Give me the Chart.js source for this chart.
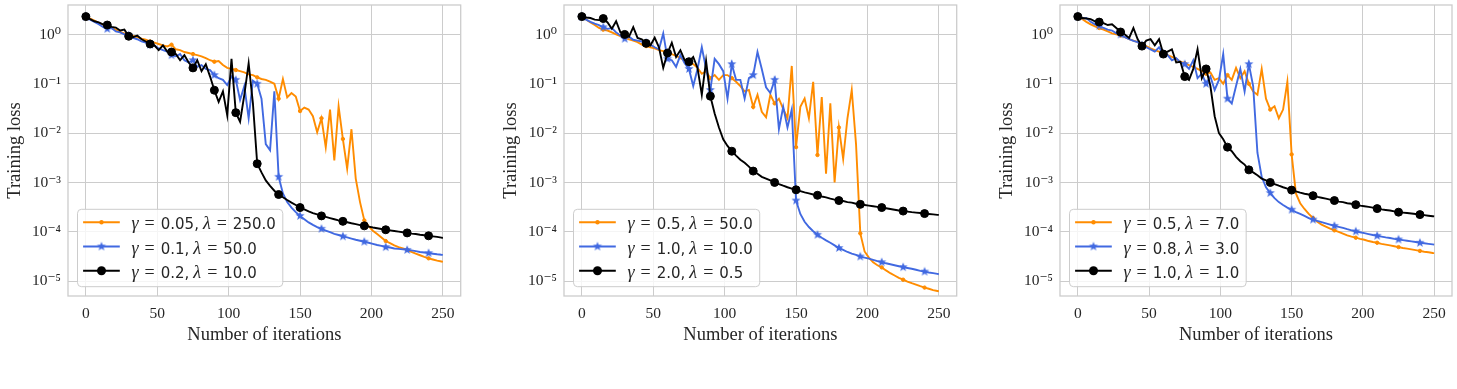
<!DOCTYPE html>
<html>
<head>
<meta charset="utf-8">
<script src="https://cdn.jsdelivr.net/npm/chart.js@4.4.1/dist/chart.umd.min.js"></script>
<style>
html,body{margin:0;padding:0;background:#ffffff;width:1457px;height:389px;overflow:hidden}
canvas{position:absolute;top:0}
</style>
</head>
<body>
<canvas id="c1" width="480" height="389" style="left:0px"></canvas>
<canvas id="c2" width="480" height="389" style="left:496px"></canvas>
<canvas id="c3" width="465" height="389" style="left:992px"></canvas>
<script>
// ---------------- data ----------------
const iterations = [0,3,6,9,12,15,18,21,24,27,30,33,36,39,42,45,48,51,54,57,60,63,66,69,72,75,78,81,84,87,90,93,96,99,102,105,108,111,114,117,120,123,126,129,132,135,138,141,144,147,150,153,156,159,162,165,168,171,174,177,180,183,186,189,192,195,198,201,204,207,210,213,216,219,222,225,228,231,234,237,240,243,246,249,250];
const xTickValues = [0,50,100,150,200,250];
const yTickValues = [1e-5,1e-4,1e-3,1e-2,1e-1,1];
const yTickLabels = ['10⁻⁵','10⁻⁴','10⁻³','10⁻²','10⁻¹','10⁰'];
const xAxisTitle = 'Number of iterations';
const yAxisTitle = 'Training loss';

// panel 1
const p1Gamma = ['0.05','0.1','0.2'];
const p1Lambda = ['250.0','50.0','10.0'];
const p1Orange = [2.3,2.1,1.9,1.72,1.58,1.45,1.35,1.25,1.12,1.05,
  0.98,0.93,0.88,0.82,0.78,0.72,0.68,0.64,0.6,0.57,
  0.62,0.5,0.48,0.44,0.42,0.4,0.38,0.36,0.33,0.3,
  0.28,0.29,0.24,0.21,0.2,0.19,0.18,0.17,0.155,0.15,
  0.135,0.125,0.12,0.11,0.1,0.05,0.125,0.053,0.065,0.055,
  0.028,0.033,0.03,0.022,0.0104,0.02,0.0052,0.03,0.0028,0.035,
  0.0076,0.0019,0.012,0.0012,0.0004,0.00017,0.00013,0.000105,0.00009,0.000077,
  0.000065,0.000059,0.000053,0.000049,0.000046,0.000043,0.000039,0.000036,0.0000335,0.000031,
  0.000029,0.0000275,0.000026,0.000025,
  0.0000245];
const p1Blue = [2.3,2.0,1.8,1.62,1.42,1.3,1.35,1.15,1.1,1.0,
  0.95,0.85,0.8,0.72,0.68,0.62,0.6,0.52,0.48,0.45,
  0.38,0.36,0.4,0.3,0.27,0.3,0.22,0.24,0.2,0.19,
  0.15,0.13,0.12,0.094,0.14,0.12,0.047,0.09,0.02,0.115,
  0.1,0.05,0.006,0.0045,0.07,0.0013,0.0006,0.0004,0.00031,0.00025,
  0.00021,0.00018,0.000155,0.000138,0.000125,0.000115,0.000106,0.000098,0.000091,0.000086,
  0.000081,0.000077,0.000073,0.000069,0.000066,0.000063,0.00006,0.000057,0.000054,0.000052,
  0.000049,0.000048,0.000046,0.000045,0.000044,0.000043,0.000042,0.0000405,0.000039,0.000038,
  0.000037,0.000036,0.000035,0.0000342,
  0.000034];
const p1Black = [2.3,2.05,1.85,1.75,1.6,1.55,1.42,1.38,1.2,1.25,
  0.92,0.88,0.95,0.8,0.72,0.64,0.6,0.48,0.6,0.45,
  0.44,0.4,0.3,0.38,0.27,0.21,0.3,0.18,0.25,0.14,
  0.074,0.043,0.07,0.023,0.32,0.026,0.017,0.06,0.26,0.04,
  0.0024,0.0016,0.0011,0.00085,0.00068,0.00057,0.0005,0.00044,0.00039,0.00035,
  0.00031,0.000285,0.00026,0.00024,0.000225,0.00021,0.0002,0.00019,0.00018,0.00017,
  0.000163,0.000156,0.000149,0.000143,0.000137,0.000132,0.000127,0.000122,0.000118,0.000114,
  0.00011,0.000107,0.000104,0.000101,0.000098,0.000095,0.000092,0.00009,0.000087,0.000085,
  0.000083,0.000081,0.000079,0.000076,
  0.000075];

// panel 2
const p2Gamma = ['0.5','1.0','2.0'];
const p2Lambda = ['50.0','10.0','0.5'];
const p2Orange = [2.3,2.0,1.75,1.55,1.35,1.25,1.2,1.1,1.0,0.92,
  0.85,0.8,0.75,0.7,0.62,0.58,0.55,0.52,0.48,0.46,
  0.42,0.4,0.37,0.33,0.3,0.27,0.25,0.21,0.16,0.18,
  0.13,0.15,0.12,0.15,0.15,0.13,0.11,0.09,0.07,0.075,
  0.034,0.06,0.027,0.021,0.06,0.04,0.05,0.031,0.02,0.23,
  0.0052,0.034,0.05,0.02,0.11,0.0036,0.054,0.0015,0.04,0.001,
  0.013,0.003,0.02,0.075,0.006,0.000093,0.00004,0.00003,0.000024,0.000021,
  0.000019,0.0000165,0.0000145,0.000013,0.0000117,0.0000107,0.0000098,0.0000091,0.0000085,0.0000079,
  0.0000074,0.000007,0.0000066,0.0000063,
  0.0000062];
const p2Blue = [2.3,2.0,1.8,1.65,1.55,1.4,1.3,1.35,1.1,0.95,
  0.82,0.9,0.78,0.75,0.72,0.68,0.62,0.55,0.5,1.05,
  0.32,0.3,0.22,0.38,0.26,0.2,0.09,0.2,0.55,0.2,
  0.075,0.32,0.25,0.18,0.05,0.25,0.12,0.12,0.05,0.13,
  0.15,0.44,0.2,0.085,0.065,0.12,0.012,0.034,0.013,0.03,
  0.00043,0.00023,0.00016,0.000125,0.000103,0.000087,0.000076,0.000067,0.00006,0.000053,
  0.000047,0.000043,0.000039,0.000036,0.000034,0.0000315,0.00003,0.0000285,0.000027,0.0000255,
  0.0000242,0.000023,0.000022,0.000021,0.00002,0.0000192,0.0000185,0.0000178,0.000017,0.0000162,
  0.0000156,0.000015,0.0000145,0.000014,
  0.0000138];
const p2Black = [2.3,2.2,2.15,2.0,1.95,2.1,1.75,1.3,1.85,1.1,
  1.0,0.9,1.4,0.85,0.8,0.66,0.6,0.86,0.55,0.21,
  0.42,0.68,0.35,0.48,0.3,0.28,0.35,0.21,0.06,0.29,
  0.056,0.025,0.013,0.0075,0.0055,0.0043,0.0035,0.0029,0.0025,0.0021,
  0.0017,0.0015,0.0013,0.0012,0.0011,0.001,0.00093,0.00086,0.0008,0.00075,
  0.00071,0.00067,0.00063,0.0006,0.00057,0.00055,0.00052,0.0005,0.00047,0.00045,
  0.00043,0.00042,0.0004,0.00039,0.00037,0.00036,0.00035,0.00034,0.00033,0.00032,
  0.00031,0.0003,0.00029,0.00028,0.00027,0.000263,0.000257,0.00025,0.000245,0.00024,
  0.000234,0.00023,0.000225,0.00022,
  0.00022];

// panel 3
const p3Gamma = ['0.5','0.8','1.0'];
const p3Lambda = ['7.0','3.0','1.0'];
const p3Orange = [2.3,2.05,1.8,1.6,1.45,1.35,1.25,1.15,1.05,1.0,
  0.95,0.88,0.8,0.75,0.7,0.62,0.58,0.52,0.48,0.45,
  0.42,0.38,0.35,0.32,0.28,0.26,0.24,0.22,0.2,0.18,
  0.16,0.17,0.12,0.13,0.1,0.15,0.12,0.21,0.13,0.18,
  0.1,0.07,0.06,0.2,0.05,0.03,0.035,0.02,0.03,0.11,
  0.0037,0.0006,0.00038,0.00029,0.00023,0.00019,0.00016,0.00014,0.000127,0.000116,
  0.000107,0.0001,0.000092,0.000085,0.00008,0.000076,0.000072,0.000069,0.000065,0.000062,
  0.00006,0.000057,0.000055,0.000053,0.000051,0.000049,0.000047,0.0000455,0.000044,0.0000425,
  0.000041,0.0000395,0.0000385,0.0000372,
  0.000037];
const p3Blue = [2.3,2.1,2.15,1.8,1.6,1.5,1.35,1.25,1.2,1.05,
  1.0,0.88,0.8,0.74,0.7,0.6,0.55,0.5,0.45,0.55,
  0.4,0.38,0.3,0.33,0.27,0.25,0.2,0.3,0.13,0.16,
  0.1,0.14,0.075,0.12,0.4,0.05,0.04,0.09,0.2,0.07,
  0.25,0.09,0.004,0.0013,0.0008,0.00061,0.00048,0.0004,0.00035,0.00031,
  0.00028,0.00025,0.00023,0.00021,0.00019,0.000177,0.000166,0.000157,0.000148,0.00014,
  0.000132,0.000126,0.00012,0.000113,0.000107,0.000102,0.000098,0.000094,0.00009,0.000086,
  0.000083,0.00008,0.000077,0.000075,0.000072,0.00007,0.000068,0.000066,0.000064,0.000062,
  0.00006,0.0000585,0.000057,0.0000555,
  0.000055];
const p3Black = [2.3,2.15,2.1,2.05,1.85,1.78,1.7,1.55,1.6,1.35,
  1.12,1.0,0.85,1.35,0.8,0.58,0.75,0.8,0.6,0.8,
  0.4,0.45,0.5,0.27,0.28,0.14,0.12,0.2,0.5,0.13,
  0.2,0.09,0.022,0.01,0.0075,0.0052,0.0043,0.0033,0.0027,0.0023,
  0.0018,0.0016,0.0014,0.0012,0.0011,0.001,0.00093,0.00086,0.0008,0.00075,
  0.0007,0.00066,0.00062,0.00059,0.00057,0.00054,0.00051,0.00049,0.00047,0.00045,
  0.00043,0.00041,0.0004,0.00038,0.00037,0.000355,0.00034,0.00033,0.00032,0.00031,
  0.000295,0.000285,0.000277,0.00027,0.00026,0.00025,0.000245,0.00024,0.000235,0.00023,
  0.000223,0.000218,0.000212,0.000207,
  0.000205];

// ---------------- styling ----------------
const SERIF = '"Liberation Serif", "DejaVu Serif", serif';
const SANS = '"DejaVu Sans", sans-serif';
const TEXT = '#262626';
const GRID = '#cccccc';
const ORANGE = '#ff8c00';
const BLUE = '#4169e1';
const BLACK = '#000000';
const AREA_W = 392.7;

function makeStar(color, R) {
  const s = Math.ceil(R * 2 + 2);
  const c = document.createElement('canvas');
  c.width = s; c.height = s;
  const g = c.getContext('2d');
  g.translate(s / 2, s / 2);
  g.beginPath();
  for (let i = 0; i < 10; i++) {
    const r = i % 2 === 0 ? R : R * 0.42;
    const a = -Math.PI / 2 + i * Math.PI / 5;
    const px = r * Math.cos(a), py = r * Math.sin(a);
    if (i === 0) g.moveTo(px, py); else g.lineTo(px, py);
  }
  g.closePath();
  g.fillStyle = color;
  g.fill();
  return c;
}
const starImg = makeStar(BLUE, 4.8);

const markerEvery = (r) => (ctx) => (iterations[ctx.dataIndex] % 15 === 0 ? r : 0);

function series(vals, color, style, r, order, gamma, lambda, idx) {
  return {
    data: iterations.map((x, i) => ({x: x, y: vals[i]})),
    borderColor: color,
    backgroundColor: color,
    borderWidth: 1.9,
    tension: 0,
    pointStyle: style,
    pointRadius: markerEvery(r),
    pointBorderWidth: 1,
    pointBorderColor: color,
    pointBackgroundColor: color,
    order: order,
    gamma: gamma, lambda: lambda, legendIndex: idx,
    markerR: r
  };
}

const framePlugin = {
  id: 'frame',
  beforeDatasetsDraw(chart) {
    const {ctx, chartArea: a} = chart;
    ctx.save();
    ctx.strokeStyle = GRID;
    ctx.lineWidth = 1.3;
    ctx.strokeRect(a.left, a.top, a.right - a.left, a.bottom - a.top);
    ctx.restore();
  }
};

const legendPlugin = {
  id: 'boxLegend',
  afterDraw(chart) {
    const {ctx, chartArea: a} = chart;
    const ds = chart.data.datasets.slice().sort((p, q) => p.legendIndex - q.legendIndex);
    const fIt = 'italic 18px ' + SERIF;
    const fEq = '18px ' + SERIF;
    const fNum = '15px ' + SANS;
    const partsOf = (d) => [
      ['γ', fIt, 6], ['=', fEq, 6], [d.gamma + ',', fNum, 4],
      ['λ', fIt, 6], ['=', fEq, 6], [d.lambda, fNum, 0]
    ];
    ctx.save();
    let maxW = 0;
    ds.forEach(d => {
      let w = 0;
      partsOf(d).forEach(p => { ctx.font = p[1]; w += ctx.measureText(p[0]).width + p[2]; });
      maxW = Math.max(maxW, w);
    });
    const left = a.left + 9.5;
    const h = 77.4;
    const top = a.bottom - 9.3 - h;
    const textX = left + 54;
    const w = textX - left + maxW + 7;
    const rad = 4;
    ctx.beginPath();
    ctx.moveTo(left + rad, top);
    ctx.lineTo(left + w - rad, top);
    ctx.arcTo(left + w, top, left + w, top + rad, rad);
    ctx.lineTo(left + w, top + h - rad);
    ctx.arcTo(left + w, top + h, left + w - rad, top + h, rad);
    ctx.lineTo(left + rad, top + h);
    ctx.arcTo(left, top + h, left, top + h - rad, rad);
    ctx.lineTo(left, top + rad);
    ctx.arcTo(left, top, left + rad, top, rad);
    ctx.closePath();
    ctx.fillStyle = 'rgba(255,255,255,0.8)';
    ctx.fill();
    ctx.strokeStyle = GRID;
    ctx.lineWidth = 1;
    ctx.stroke();

    ds.forEach((d, i) => {
      const y = top + 13 + i * 24.2;
      ctx.strokeStyle = d.borderColor;
      ctx.lineWidth = d.borderWidth;
      ctx.beginPath();
      ctx.moveTo(left + 5.6, y);
      ctx.lineTo(left + 42.3, y);
      ctx.stroke();
      const mx = left + 24;
      if (d.pointStyle === 'circle') {
        ctx.fillStyle = d.borderColor;
        ctx.beginPath();
        ctx.arc(mx, y, d.markerR + 0.5, 0, Math.PI * 2);
        ctx.fill();
      } else {
        ctx.drawImage(starImg, mx - starImg.width / 2, y - starImg.height / 2);
      }
      let x = textX;
      ctx.fillStyle = TEXT;
      ctx.textBaseline = 'alphabetic';
      ctx.textAlign = 'left';
      partsOf(d).forEach(p => {
        ctx.font = p[1];
        ctx.fillText(p[0], x, y + 7);
        x += ctx.measureText(p[0]).width + p[2];
      });
    });
    ctx.restore();
  }
};

function makeChart(id, canvasW, gammas, lambdas, orange, blue, black) {
  const el = document.getElementById(id);
  return new Chart(el, {
    type: 'line',
    data: {
      datasets: [
        series(black, BLACK, 'circle', 4, 0, gammas[2], lambdas[2], 2),
        series(blue, BLUE, starImg, 4, 1, gammas[1], lambdas[1], 1),
        series(orange, ORANGE, 'circle', 1.7, 2, gammas[0], lambdas[0], 0)
      ]
    },
    options: {
      responsive: false,
      animation: false,
      devicePixelRatio: 1,
      layout: {padding: {left: 0, right: canvasW - 68 - AREA_W, top: 4, bottom: 33}},
      plugins: {legend: {display: false}, tooltip: {enabled: false}},
      scales: {
        x: {
          type: 'linear', min: -12.5, max: 262.5,
          afterBuildTicks: (ax) => { ax.ticks = xTickValues.map(v => ({value: v})); },
          afterFit: (ax) => { ax.height = 60; ax.paddingLeft = 0; ax.paddingRight = 0; },
          grid: {color: GRID, lineWidth: 1, drawTicks: false},
          border: {display: false},
          ticks: {padding: 9, autoSkip: false, maxRotation: 0, color: TEXT,
                  font: {family: SERIF, size: 15.5}, callback: (v) => String(v)},
          title: {display: true, text: xAxisTitle, color: TEXT,
                  font: {family: SERIF, size: 18.5}, padding: {top: 0, bottom: 10}}
        },
        y: {
          type: 'logarithmic', min: 5.0e-6, max: 3.95,
          afterBuildTicks: (ax) => { ax.ticks = yTickValues.map(v => ({value: v})); },
          afterFit: (ax) => { ax.width = 68; ax.paddingTop = 0; ax.paddingBottom = 0; },
          grid: {color: GRID, lineWidth: 1, drawTicks: false},
          border: {display: false},
          ticks: {padding: 7, autoSkip: false, color: TEXT,
                  font: {family: SERIF, size: 15.5},
                  callback: (v, i) => yTickLabels[i]},
          title: {display: true, text: yAxisTitle, color: TEXT,
                  font: {family: SERIF, size: 18.5}, padding: {top: 4, bottom: 0}}
        }
      }
    },
    plugins: [framePlugin, legendPlugin]
  });
}

makeChart('c1', 480, p1Gamma, p1Lambda, p1Orange, p1Blue, p1Black);
makeChart('c2', 480, p2Gamma, p2Lambda, p2Orange, p2Blue, p2Black);
makeChart('c3', 465, p3Gamma, p3Lambda, p3Orange, p3Blue, p3Black);
</script>
</body>
</html>
